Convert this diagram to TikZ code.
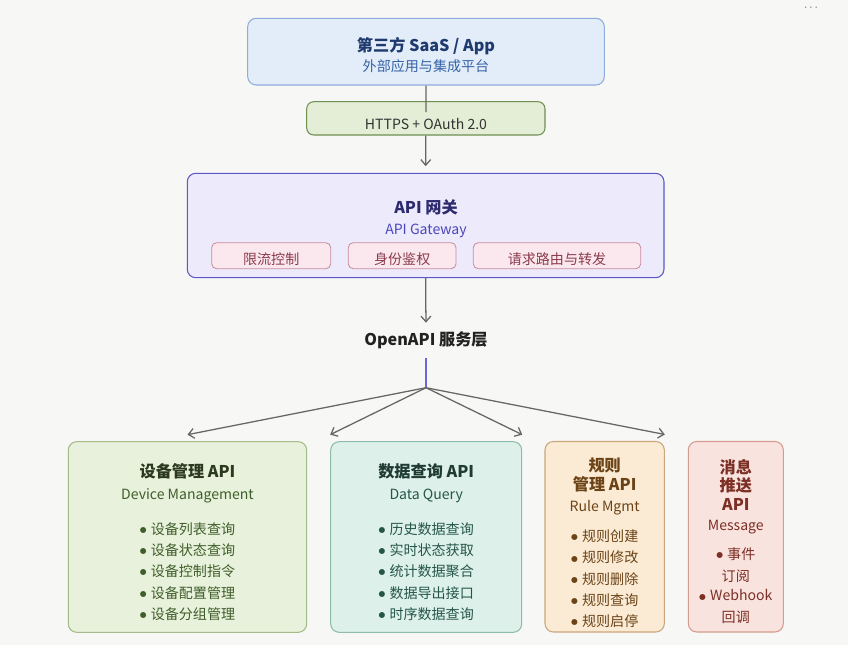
\documentclass[tikz,border=0pt]{standalone}
\usepackage{fontspec}
\setmainfont{Noto Sans CJK SC}
\newfontfamily\dotfont{DejaVu Sans}
\usepackage{xcolor}
\usepackage{tikz}
\usetikzlibrary{arrows.meta, positioning, fit, calc}
\definecolor{canvas}{RGB}{247,247,245}
\definecolor{appfill}{RGB}{227,237,249}
\definecolor{appline}{RGB}{141,173,218}
\definecolor{appink}{RGB}{30,58,110}
\definecolor{appsub}{RGB}{53,100,168}
\definecolor{authfill}{RGB}{228,237,213}
\definecolor{authline}{RGB}{111,143,82}
\definecolor{authink}{RGB}{51,51,51}
\definecolor{gwfill}{RGB}{236,234,251}
\definecolor{gwline}{RGB}{91,87,201}
\definecolor{gwink}{RGB}{45,43,110}
\definecolor{gwsub}{RGB}{75,70,190}
\definecolor{chipfill}{RGB}{251,232,238}
\definecolor{chipline}{RGB}{201,140,156}
\definecolor{chipink}{RGB}{139,59,78}
\definecolor{svcink}{RGB}{34,34,34}
\definecolor{stubpurple}{RGB}{108,102,221}
\definecolor{linkgray}{RGB}{102,102,102}
\definecolor{devfill}{RGB}{232,241,219}
\definecolor{devline}{RGB}{163,187,136}
\definecolor{devhead}{RGB}{43,58,30}
\definecolor{devink}{RGB}{63,94,43}
\definecolor{qryfill}{RGB}{221,241,234}
\definecolor{qryline}{RGB}{141,188,171}
\definecolor{qryhead}{RGB}{31,59,51}
\definecolor{qryink}{RGB}{38,86,74}
\definecolor{rulefill}{RGB}{251,235,212}
\definecolor{ruleline}{RGB}{203,166,122}
\definecolor{ruleink}{RGB}{107,67,23}
\definecolor{msgfill}{RGB}{249,227,223}
\definecolor{msgline}{RGB}{213,155,143}
\definecolor{msgink}{RGB}{124,47,36}
\definecolor{dotgray}{RGB}{90,90,90}
\newcommand{\headfont}{\fontsize{11.5}{14}\selectfont\bfseries}
\newcommand{\itemdot}{\raisebox{1.4pt}{\dotfont\fontsize{5.5}{6}\selectfont ●}\hspace{3pt}}

\begin{document}
\begin{tikzpicture}[x=0.025cm, y=-0.025cm,
    panel/.style={rectangle, rounded corners=6pt, draw=#1, line width=0.75pt,
                  inner sep=0pt},
    chip/.style={rectangle, rounded corners=3.5pt, draw=chipline, fill=chipfill,
                 line width=0.6pt, inner sep=0pt},
    caption/.style={inner sep=0pt, align=center, text=#1},
    wire/.style={draw=linkgray, line width=0.9pt},
    link/.style={wire, -{Straight Barb[length=4pt, width=7pt]}},
]
% page and background
\fill[canvas] (0,0) rectangle (848,645);
\useasboundingbox (0,0) rectangle (848,645);
\node[caption=dotgray, font=\fontsize{8}{8}\selectfont] (more) at (811,8) {$\cdots$};

% external platform and auth
\node[panel=appline, fill=appfill, fit={(247.7,18.3) (604.3,85)}] (app) {};
\node[panel=authline, fill=authfill, rounded corners=5pt,
      fit={(306.7,101.7) (545,135)}] (auth) {};
\coordinate (authin) at (426,112);
\draw[wire] (app.south) -- (authin);
\node[caption=appink, font=\fontsize{10}{14.3}\selectfont] (apptxt) at (426,55)
  {{\headfont 第三方 SaaS / App}\\
   \textcolor{appsub}{外部应用与集成平台}};
\node[caption=authink, font=\fontsize{10}{12}\selectfont] (authtxt) at (426,124)
  {HTTPS + OAuth 2.0};

% gateway
\node[panel=gwline, fill=gwfill, fit={(187.3,173.3) (664,277.7)}] (gw) {};
\draw[link, shorten >=4.7pt] (auth.south) -- (gw.north);
\node[caption=gwink, font=\fontsize{10}{14.6}\selectfont] (gwtxt) at (426,218.6)
  {{\headfont API 网关}\\
   \textcolor{gwsub}{API Gateway}};
\node[chip, fit={(211.7,242.7) (330.7,268.7)}] (limit) {};
\node[chip, fit={(348.3,242.7) (456,268.7)}] (authz) {};
\node[chip, fit={(473.3,242.7) (640.7,268.7)}] (route) {};
\node[caption=chipink, font=\fontsize{10}{12}\selectfont] (limittxt) at (271.2,259) {限流控制};
\node[caption=chipink, font=\fontsize{10}{12}\selectfont] (authztxt) at (402.2,259) {身份鉴权};
\node[caption=chipink, font=\fontsize{10}{12}\selectfont] (routetxt) at (557,259) {请求路由与转发};

% service layer
\node[caption=svcink, font=\headfont] (svc) at (426,340) {OpenAPI 服务层};
\draw[link, shorten >=6pt] (gw.south) -- (svc.north);
\coordinate (stub) at (426,358);
\coordinate (hub) at (426,387.7);
\draw[stubpurple, line width=1.2pt] (stub) -- (hub);

% API groups
\node[panel=devline, fill=devfill, fit={(68.3,441.7) (306.7,632.3)}] (dev) {};
\node[panel=qryline, fill=qryfill, fit={(330.7,441.7) (521.7,632.3)}] (qry) {};
\node[panel=ruleline, fill=rulefill, fit={(545,441.5) (664.3,632)}] (rule) {};
\node[panel=msgline, fill=msgfill, fit={(688.3,441.5) (783.3,632)}] (msg) {};

\draw[link] (hub) -- ($(dev.north)+(0,-6.5)$);
\draw[link] (hub) -- ($(qry.north west)+(0,-6.5)$);
\draw[link] (hub) -- ($(qry.north east)+(0,-6.5)$);
\draw[link] (hub) -- ($(rule.north east)+(0,-6.5)$);

\node[caption=devink, font=\fontsize{10}{15.2}\selectfont] (devtxt) at (187.5,542)
  {\textcolor{devhead}{\headfont 设备管理 API}\\[0.4pt]
   Device Management\\[9.6pt]
   \itemdot 设备列表查询\\ \itemdot 设备状态查询\\ \itemdot 设备控制指令\\
   \itemdot 设备配置管理\\ \itemdot 设备分组管理};
\node[caption=qryink, font=\fontsize{10}{15.2}\selectfont] (qrytxt) at (426.2,542)
  {\textcolor{qryhead}{\headfont 数据查询 API}\\[0.4pt]
   Data Query\\[9.6pt]
   \itemdot 历史数据查询\\ \itemdot 实时状态获取\\ \itemdot 统计数据聚合\\
   \itemdot 数据导出接口\\ \itemdot 时序数据查询};
\node[caption=ruleink, font=\fontsize{10}{15.1}\selectfont] (ruletxt) at (604.7,543)
  {{\headfont 规则}\\[-1.6pt]
   {\headfont 管理 API}\\[-0.2pt]
   Rule Mgmt\\[6.2pt]
   \itemdot 规则创建\\ \itemdot 规则修改\\ \itemdot 规则删除\\
   \itemdot 规则查询\\ \itemdot 规则启停};
\node[caption=msgink, font=\fontsize{10}{15}\selectfont] (msgtxt) at (735.8,541.5)
  {{\headfont 消息}\\[-2.2pt]
   {\headfont 推送}\\[-0.8pt]
   {\headfont API}\\[-0.8pt]
   Message\\[5.6pt]
   \itemdot 事件\\ 订阅\\[-0.8pt]
   \itemdot Webhook\\[0.6pt] 回调};
\end{tikzpicture}
\end{document}
